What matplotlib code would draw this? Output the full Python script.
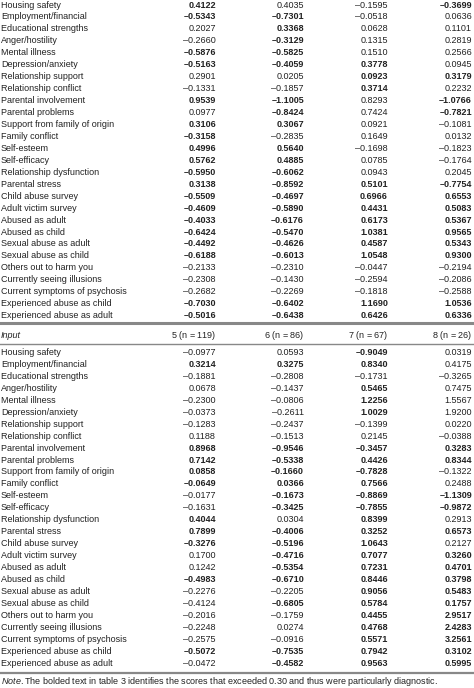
import matplotlib.pyplot as plt

plt.rcParams['font.family'] = ['Liberation Sans', 'DejaVu Sans']
plt.rcParams['mathtext.fontset'] = 'custom'
plt.rcParams['mathtext.rm'] = 'Liberation Sans'
plt.rcParams['mathtext.it'] = 'Liberation Sans:italic'

labels = [
    "Housing safety", "Employment/financial", "Educational strengths", "Anger/hostility",
    "Mental illness", "Depression/anxiety", "Relationship support", "Relationship conflict",
    "Parental involvement", "Parental problems", "Support from family of origin",
    "Family conflict", "Self-esteem", "Self-efficacy", "Relationship dysfunction",
    "Parental stress", "Child abuse survey", "Adult victim survey", "Abused as adult",
    "Abused as child", "Sexual abuse as adult", "Sexual abuse as child",
    "Others out to harm you", "Currently seeing illusions", "Current symptoms of psychosis",
    "Experienced abuse as child", "Experienced abuse as adult",
]

top_values = [
    [0.4122, 0.4035, -0.1595, -0.3699],
    [-0.5343, -0.7301, -0.0518, 0.0636],
    [0.2027, 0.3368, 0.0628, 0.1101],
    [-0.2660, -0.3129, 0.1315, 0.2819],
    [-0.5876, -0.5825, 0.1510, 0.2566],
    [-0.5163, -0.4059, 0.3778, 0.0945],
    [0.2901, 0.0205, 0.0923, 0.3179],
    [-0.1331, -0.1857, 0.3714, 0.2232],
    [0.9539, -1.1005, 0.8293, -1.0766],
    [0.0977, -0.8424, 0.7424, -0.7821],
    [0.3106, 0.3067, 0.0921, -0.1081],
    [-0.3158, -0.2835, 0.1649, 0.0132],
    [0.4996, 0.5640, -0.1698, -0.1823],
    [0.5762, 0.4885, 0.0785, -0.1764],
    [-0.5950, -0.6062, 0.0943, 0.2045],
    [0.3138, -0.8592, 0.5101, -0.7754],
    [-0.5509, -0.4697, 0.6966, 0.6553],
    [-0.4609, -0.5890, 0.4431, 0.5083],
    [-0.4033, -0.6176, 0.6173, 0.5367],
    [-0.6424, -0.5470, 1.0381, 0.9565],
    [-0.4492, -0.4626, 0.4587, 0.5343],
    [-0.6188, -0.6013, 1.0548, 0.9300],
    [-0.2133, -0.2310, -0.0447, -0.2194],
    [-0.2308, -0.1430, -0.2594, -0.2086],
    [-0.2682, -0.2269, -0.1818, -0.2588],
    [-0.7030, -0.6402, 1.1690, 1.0536],
    [-0.5016, -0.6438, 0.6426, 0.6336],
]
top_bold = [
    "1001", "1100", "0100", "0100", "1100", "1110", "0011", "0010", "1101", "0101",
    "1100", "1000", "1100", "1100", "1100", "1111", "1111", "1111", "1111", "1111",
    "1111", "1111", "0000", "0000", "0000", "1111", "1111",
]

bottom_headers = ["5 (n = 119)", "6 (n = 86)", "7 (n = 67)", "8 (n = 26)"]
bottom_values = [
    [-0.0977, 0.0593, -0.9049, 0.0319],
    [0.3214, 0.3275, 0.8340, 0.4175],
    [-0.1881, -0.2808, -0.1731, -0.3265],
    [0.0678, -0.1437, 0.5465, 0.7475],
    [-0.2300, -0.0806, 1.2256, 1.5567],
    [-0.0373, -0.2611, 1.0029, 1.9200],
    [-0.1283, -0.2437, -0.1399, 0.0220],
    [0.1188, -0.1513, 0.2145, -0.0388],
    [0.8968, -0.9546, -0.3457, 0.3283],
    [0.7142, -0.5338, 0.4426, 0.8344],
    [0.0858, -0.1660, -0.7828, -0.1322],
    [-0.0649, 0.0366, 0.7566, 0.2488],
    [-0.0177, -0.1673, -0.8869, -1.1309],
    [-0.1631, -0.3425, -0.7855, -0.9872],
    [0.4044, 0.0304, 0.8399, 0.2913],
    [0.7899, -0.4006, 0.3252, 0.6573],
    [-0.3276, -0.5196, 1.0643, 0.2127],
    [0.1700, -0.4716, 0.7077, 0.3260],
    [0.1242, -0.5354, 0.7231, 0.4701],
    [-0.4983, -0.6710, 0.8446, 0.3798],
    [-0.2276, -0.2205, 0.9056, 0.5483],
    [-0.4124, -0.6805, 0.5784, 0.1757],
    [-0.2016, -0.1759, 0.4455, 2.9517],
    [-0.2248, 0.0274, 0.4768, 2.4283],
    [-0.2575, -0.0916, 0.5571, 3.2561],
    [-0.5072, -0.7535, 0.7942, 0.3102],
    [-0.0472, -0.4582, 0.9563, 0.5995],
]
bottom_bold = [
    "0010", "1110", "0000", "0010", "0010", "0010", "0000", "0000", "1111", "1111",
    "1110", "1110", "0111", "0111", "1010", "1111", "1110", "0111", "0111", "1111",
    "0011", "0111", "0011", "0011", "0011", "1111", "0111",
]

note = r"$\mathit{Note.}$The bolded text in table 3 identifies the scores that exceeded 0.30 and thus were particularly diagnostic."

fig = plt.figure(figsize=(4.74, 6.88), dpi=100)
ax = fig.add_axes([0, 0, 1, 1])
ax.set_xlim(0, 474)
ax.set_ylim(688, 0)
ax.axis('off')

txt = '#222222'
fs = 6.5
col_x = [216, 304, 388, 472]
pitch = 11.95


def fmt(v):
    return f"{v:.4f}".replace('-', '\u2013')


def draw_block(y0, values, bold):
    for i, (lab, row, b) in enumerate(zip(labels, values, bold)):
        y = y0 + i * pitch
        ax.text(1, y, lab, fontsize=fs, color=txt, va='center', ha='left')
        for x, v, flag in zip(col_x, row, b):
            ax.text(x, y, fmt(v), fontsize=fs, color=txt, va='center', ha='right',
                    fontweight='bold' if flag == '1' else 'normal')


draw_block(5, top_values, top_bold)

ax.plot([0, 474], [322.5, 322.5], color='#888888', lw=2.2)
ax.text(1, 335, "Input", fontsize=fs, color=txt, va='center', ha='left', style='italic')
for x, h in zip(col_x, bottom_headers):
    num, rest = h.split(' ', 1)
    n = rest.split('= ')[1].rstrip(')')
    ax.text(x, 335, rf"$\mathit{{{num}}}$ (n = $\mathit{{{n}}}$)", fontsize=fs,
            color=txt, va='center', ha='right')
ax.plot([0, 474], [343.5, 343.5], color='#888888', lw=1.0)

draw_block(352.5, bottom_values, bottom_bold)

ax.plot([0, 474], [672.5, 672.5], color='#888888', lw=1.6)
ax.text(1, 682, note, fontsize=fs, color=txt, va='center', ha='left')

fig.savefig('out.png', dpi=100)
